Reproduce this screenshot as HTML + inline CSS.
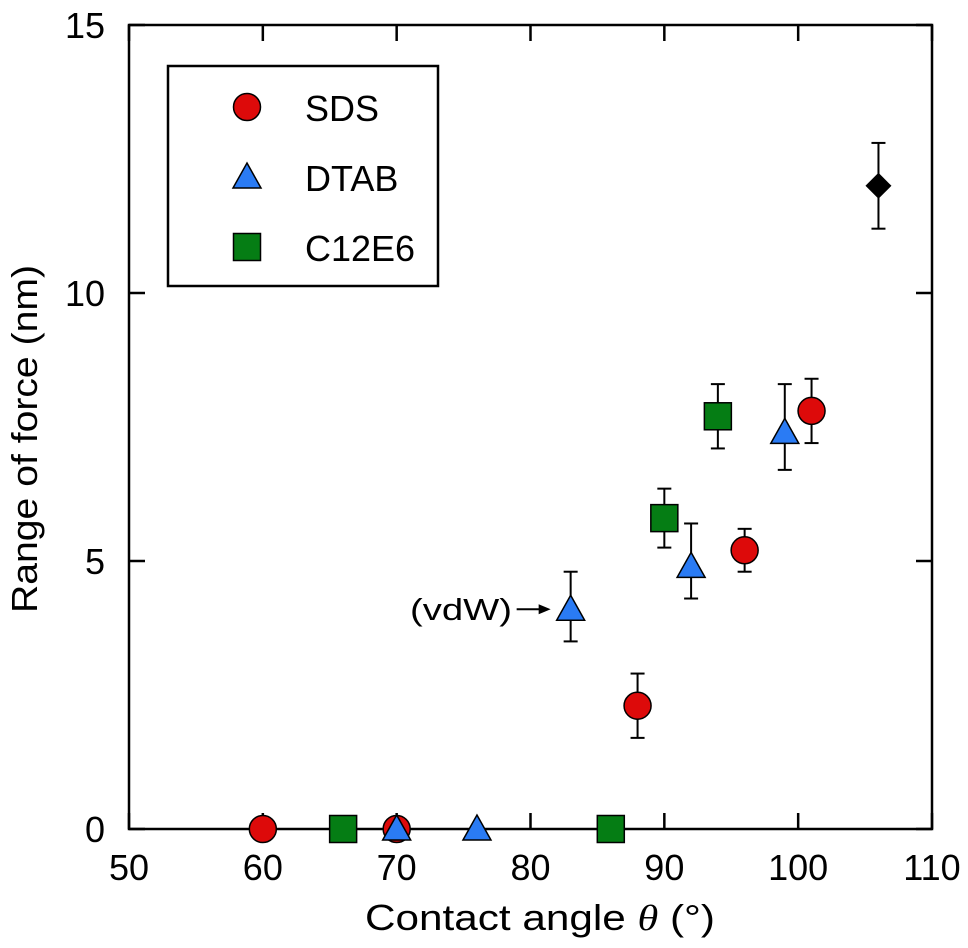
<!DOCTYPE html>
<html><head><meta charset="utf-8"><style>
html,body{margin:0;padding:0;background:#fff}
svg{display:block;font-family:"Liberation Sans",Arial,sans-serif}
</style></head><body>
<svg id="chart" width="968" height="948" viewBox="0 0 968 948"></svg>
<script>
const sdsX=[60,70,88,96,101];
const sdsY=[0,0,2.3,5.2,7.8];
const sdsUp=[0,0,0.6,0.4,0.6];
const sdsDn=[0,0,0.6,0.4,0.6];
const dtabX=[70,76,83,92,99];
const dtabY=[0,0,4.1,4.9,7.4];
const dtabUp=[0,0,0.7,0.8,0.9];
const dtabDn=[0,0,0.6,0.6,0.7];
const c12X=[66,86,90,94];
const c12Y=[0,0,5.8,7.7];
const c12Up=[0,0,0.55,0.6];
const c12Dn=[0,0,0.55,0.6];
const otherX=[106];
const otherY=[12];
const otherErr=[0.8];
const xTicks=[50,60,70,80,90,100,110];
const yTicks=[0,5,10,15];

const L=129,R=932,T=25,B=829;
const sx=v=>L+(v-50)/60*(R-L);
const sy=v=>B-(v/15)*(B-T);
const svg=document.getElementById('chart');
const NS='http://www.w3.org/2000/svg';
function mk(tag,attrs,parent){const e=document.createElementNS(NS,tag);for(const k in attrs)e.setAttribute(k,attrs[k]);(parent||svg).appendChild(e);return e;}

const fr=mk('rect',{x:L,y:T,width:R-L,height:B-T,fill:'none',stroke:'#000','stroke-width':2.5});



xTicks.forEach(v=>{
  const x=sx(v);
  mk('line',{x1:x,y1:B,x2:x,y2:B-16,stroke:'#000','stroke-width':2.5});
  mk('line',{x1:x,y1:T,x2:x,y2:T+16,stroke:'#000','stroke-width':2.5});
  const t=mk('text',{x:x,y:B+51,'text-anchor':'middle','font-size':36});
  t.textContent=v;
  
  
});
yTicks.forEach(v=>{
  const y=sy(v);
  mk('line',{x1:L,y1:y,x2:L+16,y2:y,stroke:'#000','stroke-width':2.5});
  mk('line',{x1:R,y1:y,x2:R-16,y2:y,stroke:'#000','stroke-width':2.5});
  const t=mk('text',{x:L-24,y:y+13,'text-anchor':'end','font-size':36});
  t.textContent=v;
  
  
});

const xt=mk('text',{x:365,y:930,'font-size':36,textLength:350,lengthAdjust:'spacingAndGlyphs'});
xt.innerHTML='Contact angle <tspan font-family="Liberation Serif" font-style="italic">θ</tspan> (°)';


const yt=mk('text',{x:0,y:0,'text-anchor':'middle','font-size':36,textLength:348,lengthAdjust:'spacingAndGlyphs',transform:'translate(37,439) rotate(-90)'});
yt.textContent='Range of force (nm)';



function err(x,y,up,dn){
  if(up<=0&&dn<=0)return;
  const X=sx(x),Y1=sy(y+up),Y2=sy(y-dn);
  mk('line',{x1:X,y1:Y1,x2:X,y2:Y2,stroke:'#000','stroke-width':2});
  mk('line',{x1:X-7,y1:Y1,x2:X+7,y2:Y1,stroke:'#000','stroke-width':2});
  mk('line',{x1:X-7,y1:Y2,x2:X+7,y2:Y2,stroke:'#000','stroke-width':2});
}
function circle(X,Y){return mk('circle',{cx:X,cy:Y,r:13.5,fill:'#dd0a0a',stroke:'#000','stroke-width':1.5});}
function tri(X,Y){return mk('polygon',{points:`${X},${Y-14} ${X+14},${Y+11} ${X-14},${Y+11}`,fill:'#2a7bf4',stroke:'#000','stroke-width':1.5});}
function sq(X,Y){return mk('rect',{x:X-13.5,y:Y-13.5,width:27,height:27,fill:'#057d14',stroke:'#000','stroke-width':1.5});}
function dia(X,Y){return mk('polygon',{points:`${X},${Y-13} ${X+13},${Y} ${X},${Y+13} ${X-13},${Y}`,fill:'#000'});}

c12X.forEach((x,i)=>{err(x,c12Y[i],c12Up[i],c12Dn[i]);const e=sq(sx(x),sy(c12Y[i]));
  
  });
sdsX.forEach((x,i)=>{err(x,sdsY[i],sdsUp[i],sdsDn[i]);const e=circle(sx(x),sy(sdsY[i]));
  
  });
dtabX.forEach((x,i)=>{err(x,dtabY[i],dtabUp[i],dtabDn[i]);const e=tri(sx(x),sy(dtabY[i]));
  
  });
otherX.forEach((x,i)=>{err(x,otherY[i],otherErr[i],otherErr[i]);const e=dia(sx(x),sy(otherY[i]));
  
  });

const ax=sx(83)-20, ay=sy(4.1);
mk('line',{x1:ax-34,y1:ay,x2:ax-8,y2:ay,stroke:'#000','stroke-width':2});
mk('polygon',{points:`${ax},${ay} ${ax-12},${ay-5} ${ax-12},${ay+5}`,fill:'#000'});
const vt=mk('text',{x:410,y:ay+11,'font-size':31,textLength:102,lengthAdjust:'spacingAndGlyphs'});
vt.textContent='(vdW)';



const lg=mk('g',{});


mk('rect',{x:168,y:66,width:270,height:220,fill:'#fff',stroke:'#000','stroke-width':2.5},lg);
const names=['SDS','DTAB','C12E6'];
const fns=[circle,tri,sq];
names.forEach((n,i)=>{
  const y=107+i*70;
  const m=fns[i](247,y);
  lg.appendChild(m);
  const t=mk('text',{x:305,y:y+14,'font-size':36},lg);
  t.textContent=n;
  
  
});
</script>
</body></html>
